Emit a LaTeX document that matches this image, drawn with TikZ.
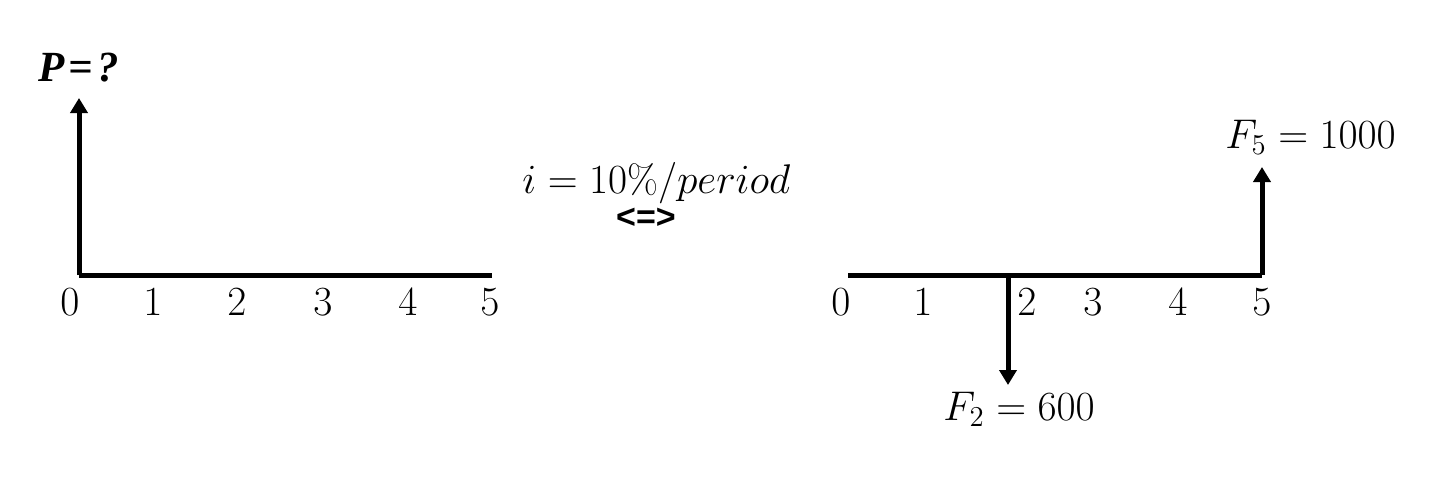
\documentclass[tikz,border=0pt]{standalone}
\usepackage{fontspec}
\newfontfamily\arrfont{Liberation Sans}
\newfontfamily\pfont{Liberation Serif}
\usetikzlibrary{arrows.meta}
\begin{document}
\begin{tikzpicture}[x=0.5pt,y=-0.5pt,
  axisline/.style={line width=2.5pt,line join=miter},
  flow/.style={line width=2.5pt,-{Triangle[length=7.5pt,width=8.5pt]}},
  lbl/.style={inner sep=0pt,font=\fontsize{20pt}{24pt}\selectfont},
  tick/.style={lbl,anchor=base}]
\useasboundingbox (0,0) rectangle (1431,477);
% left diagram
\coordinate (L0) at (79,275);
\coordinate (L5) at (492,275);
\coordinate (Ltop) at (79,98);
\draw[axisline] (L5) -- (L0);
\draw[flow] (L0) -- (Ltop);
\node[lbl,anchor=base west,font=\fontsize{21.5pt}{24pt}\selectfont\pfont\bfseries\itshape] (P) at (38,81) {P\hspace{0.1em}=\hspace{0.1em}?};
\foreach \n/\x in {0/70,1/153,2/237,3/323,4/408,5/490}
  \node[tick] (l\n) at (\x,315) {$\n$};
% middle
\node[lbl,anchor=base west] (rate) at (522,193) {$i=10\%/period$};
\node[lbl,font=\fontsize{17pt}{20pt}\selectfont\arrfont\bfseries] (eq) at (646,218) {<=>};
% right diagram
\coordinate (R0) at (848,275);
\coordinate (R2) at (1008,275);
\coordinate (R5) at (1262,275);
\coordinate (Rtop) at (1262,167);
\coordinate (Rbot) at (1008,385);
\draw[axisline] (R0) -- (R5);
\draw[flow] (R5) -- (Rtop);
\draw[flow] (R2) -- (Rbot);
\foreach \n/\x in {0/841,1/923,2/1027,3/1093,4/1178,5/1262}
  \node[tick] (r\n) at (\x,315) {$\n$};
\node[lbl,anchor=base west] (F5) at (1225,148) {$F_5=1000$};
\node[lbl,anchor=base west] (F2) at (943,420) {$F_2=600$};
\end{tikzpicture}
\end{document}
